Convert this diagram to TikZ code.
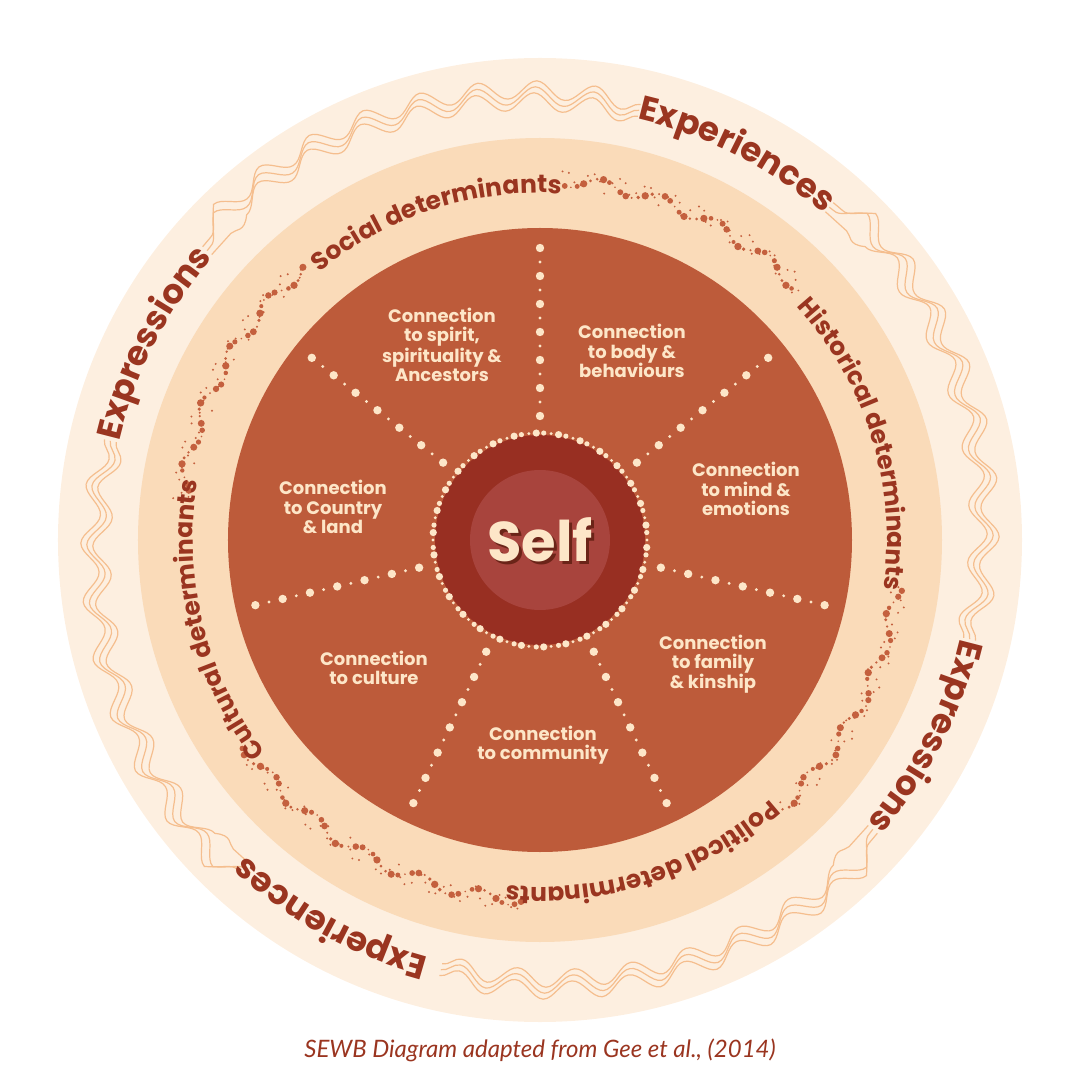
\documentclass[tikz,border=0pt]{standalone}
\usepackage{fontspec}
\usepackage{tikz}
\usetikzlibrary{decorations.text, decorations.pathmorphing}
\newfontfamily\popfont{Poppins}
\newfontfamily\latofont{Lato}
\definecolor{outerband}{HTML}{FDEFE0}
\definecolor{peachband}{HTML}{FADBB9}
\definecolor{maincirc}{HTML}{BD5B3A}
\definecolor{selfring}{HTML}{982F22}
\definecolor{selfcore}{HTML}{A8443D}
\definecolor{cream}{HTML}{FDE6C8}
\definecolor{darkred}{HTML}{9A3520}
\definecolor{banddot}{HTML}{C4603E}
\definecolor{wavecol}{HTML}{F5BE8E}
\definecolor{shade}{HTML}{6B2418}
\tikzset{
  conn/.style={text=cream, align=center, font=\popfont\bfseries\fontsize{9}{9.6}\selectfont},
  wave/.style={wavecol, line width=0.6pt, decorate, decoration={snake, amplitude=4.5pt, segment length=29pt}},
  dettext/.style={decorate, decoration={text along path, text align=center, text color=darkred,
      text={|\popfont\bfseries\fontsize{12.5}{13}\selectfont|#1}}},
  exptext/.style={decorate, decoration={text along path, text align=center, text color=darkred,
      text={|\popfont\bfseries\fontsize{17}{18}\selectfont|#1}}}
}
\begin{document}
\begin{tikzpicture}[scale=0.017573]
    \useasboundingbox (-540,-540) rectangle (540,540);

    % Rings
    \fill[outerband] (0,0) circle (482);
    \fill[peachband] (0,0) circle (402);
    \fill[maincirc] (0,0) circle (312);

    % Wavy lines
    \foreach \a/\b in {77/139, 167/229, -103/-41, -13/49} {
        \foreach \r in {435,441,447}
            \draw[wave] (\a:\r) arc[start angle=\a, end angle=\b, radius=\r];
    }

    % Dots between determinants
    \foreach \a/\b in {44/86, -48/-8, 215/267, 131/173} {
        \foreach \t in {\a,...,\b} {
            \pgfmathsetmacro\rr{360+6*sin(\t*37)}
            \pgfmathsetmacro\ss{0.9+2.8*abs(sin(\t*53))^2}
            \fill[banddot] (\t:\rr) circle (\ss);
            \pgfmathsetmacro\rs{352+18*abs(sin(\t*41))}
            \fill[banddot] (\t+0.5:\rs) circle (1.1);
        }
    }

    % Outer labels
    \path[exptext={Experiences}] (110:432) arc[start angle=110, end angle=16, radius=432];
    \path[exptext={Expressions}] (20:432) arc[start angle=20, end angle=-74, radius=432];
    \path[exptext={Experiences}] (-72:432) arc[start angle=-72, end angle=-166, radius=432];
    \path[exptext={Expressions}] (200:432) arc[start angle=200, end angle=106, radius=432];

    % Determinants
    \path[dettext={Social determinants}] (160:347) arc[start angle=160, end angle=56, radius=347];
    \path[dettext={Historical determinants}] (69:347) arc[start angle=69, end angle=-35, radius=347];
    \path[dettext={Political determinants}] (-20:347) arc[start angle=-20, end angle=-124, radius=347];
    \path[dettext={Cultural determinants}] (246:347) arc[start angle=246, end angle=142, radius=347];

    % Spokes
    \foreach \a in {90, 38.6, -12.9, -64.3, -115.7, -167.1, 141.4} {
        \foreach \r [count=\i] in {124,138,...,300} {
            \pgfmathsetmacro\ss{ifthenelse(mod(\i,2)==1,4.2,1.6)}
            \fill[cream] (\a:\r) circle (\ss);
        }
    }

    % Self
    \fill[selfring] (0,0) circle (105);
    \fill[selfcore] (0,0) circle (70);
    \foreach \t [count=\i] in {0,4,...,356} {
        \pgfmathsetmacro\ss{ifthenelse(mod(\i,3)==0,3.6,ifthenelse(mod(\i,3)==1,1.6,2.6))}
        \fill[cream] (\t:107) circle (\ss);
    }
    \node[text=shade, font=\popfont\bfseries\fontsize{28}{30}\selectfont] (selfshadow) at (3,-3) {Self};
    \node[text=cream, font=\popfont\bfseries\fontsize{28}{30}\selectfont] (self) at (0,0) {Self};

    % Connections
    \node[conn] (spirit) at (-98,195) {Connection\\to spirit,\\spirituality \&\\Ancestors};
    \node[conn] (body) at (92,189) {Connection\\to body \&\\behaviours};
    \node[conn] (mind) at (206,51) {Connection\\to mind \&\\emotions};
    \node[conn] (family) at (173,-124) {Connection\\to family\\\& kinship};
    \node[conn] (community) at (3,-205) {Connection\\to community};
    \node[conn] (culture) at (-166,-128) {Connection\\to culture};
    \node[conn] (country) at (-207,33) {Connection\\to Country\\\& land};

    % Caption
    \node[text=darkred, font=\latofont\itshape\fontsize{12}{14}\selectfont] (caption) at (0,-510)
        {SEWB Diagram adapted from Gee et al., (2014)};
\end{tikzpicture}
\end{document}
